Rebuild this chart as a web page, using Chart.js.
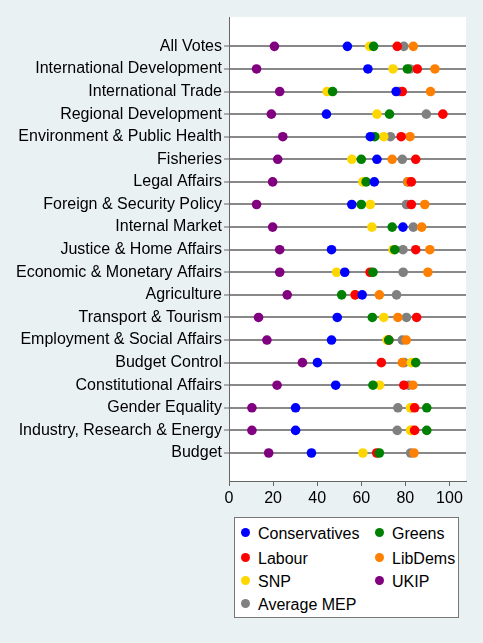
<!DOCTYPE html>
<html>
<head>
<meta charset="utf-8">
<script src="https://cdn.jsdelivr.net/npm/chart.js@4/dist/chart.umd.min.js"></script>
<style>
  html, body { margin: 0; padding: 0; background: #eaf1f3; }
  #wrap { position: relative; width: 483px; height: 643px; }
  canvas { position: absolute; left: 0; top: 0; }
  #legend { position: absolute; left: 234px; top: 517px; width: 225px; height: 101px; box-sizing: border-box;
    border: 1px solid #777; background: #fff; font-family: "Liberation Sans", Arial, sans-serif; font-size: 16px; color: #000; }
  .li { position: absolute; height: 20px; line-height: 20px; white-space: nowrap; }
  .dot { position: absolute; width: 9px; height: 9px; border-radius: 50%; left: 0; top: 5px; }
  .lt { position: absolute; left: 17px; top: 1px; }
</style>
</head>
<body>
<div id="wrap">
  <canvas id="c" width="483" height="643"></canvas>
  <div id="legend"></div>
</div>
<script>
const categories = [
  "All Votes", "International Development", "International Trade", "Regional Development",
  "Environment & Public Health", "Fisheries", "Legal Affairs", "Foreign & Security Policy",
  "Internal Market", "Justice & Home Affairs", "Economic & Monetary Affairs", "Agriculture",
  "Transport & Tourism", "Employment & Social Affairs", "Budget Control", "Constitutional Affairs",
  "Gender Equality", "Industry, Research & Energy", "Budget"
];
const conservatives = [53.7, 63.0, 75.8, 44.2, 64.1, 67.1, 65.9, 55.7, 78.9, 46.5, 52.5, 60.4, 49.1, 46.5, 40.1, 48.4, 30.2, 30.2, 37.4];
const greens        = [65.6, 80.9, 47.0, 72.8, 66.1, 60.0, 62.2, 60.0, 74.0, 75.2, 65.3, 51.1, 65.0, 72.5, 84.7, 65.3, 89.7, 89.7, 68.2];
const labour        = [76.3, 85.4, 78.6, 97.0, 78.1, 84.7, 82.7, 82.7, null, 84.7, 64.0, 57.2, 85.1, 72.5, 69.1, 79.3, 84.2, 84.2, 67.0];
const libdems       = [83.6, 93.4, 91.4, null, 82.1, 74.0, 81.2, 88.8, 87.4, 91.1, 90.2, 68.2, 76.6, 80.4, 78.6, 83.4, 82.8, 82.8, 83.9];
const snp           = [63.8, 74.4, 44.5, 67.1, 70.2, 55.7, 60.7, 64.1, 64.8, 74.4, 48.8, 57.2, 70.2, 71.7, 82.7, 68.3, 82.3, 82.3, 60.7];
const ukip          = [20.6, 12.5, 23.0, 19.2, 24.4, 22.1, 19.8, 12.5, 19.8, 23.0, 23.0, 26.4, 13.4, 17.2, 33.3, 21.8, 10.4, 10.4, 18.0];
const averageMEP    = [79.3, 82.0, 77.2, 89.5, 73.2, 78.6, 81.0, 80.5, 83.6, 78.9, 79.0, 76.0, 80.5, 78.6, 79.5, 81.5, 76.6, 76.3, 82.4];
const xTicks = [0, 20, 40, 60, 80, 100];

const series = [
  { name: "Conservatives", values: conservatives, color: "#0000ff", order: 1 },
  { name: "Greens",        values: greens,        color: "#008000", order: 2 },
  { name: "Labour",        values: labour,        color: "#ff0000", order: 3 },
  { name: "LibDems",       values: libdems,       color: "#ff8000", order: 5 },
  { name: "SNP",           values: snp,           color: "#ffd700", order: 4 },
  { name: "UKIP",          values: ukip,          color: "#800080", order: 0 },
  { name: "Average MEP",   values: averageMEP,    color: "#808080", order: 6 }
];

const datasets = series.map(s => ({
  label: s.name,
  data: s.values.map((v, i) => v === null ? null : { x: v, y: i }).filter(p => p !== null),
  backgroundColor: s.color,
  borderColor: s.color,
  borderWidth: 0,
  pointRadius: 4.8,
  pointHoverRadius: 4.8,
  order: s.order,
  showLine: false
}));

const plotBg = {
  id: 'plotBg',
  beforeDraw(chart) {
    const { ctx, chartArea: a } = chart;
    ctx.save();
    ctx.fillStyle = '#ffffff';
    ctx.fillRect(a.left, a.top, a.right - a.left, a.bottom - a.top);
    ctx.restore();
  }
};

const font = { family: '"Liberation Sans", Arial, sans-serif', size: 16 };

new Chart(document.getElementById('c'), {
  type: 'scatter',
  data: { datasets },
  plugins: [plotBg],
  options: {
    responsive: false,
    animation: false,
    layout: { padding: { top: 17, right: 17, left: 0, bottom: 122 } },
    plugins: { legend: { display: false }, tooltip: { enabled: false } },
    scales: {
      x: {
        type: 'linear', min: 0, max: 107.5,
        afterBuildTicks: s => { s.ticks = xTicks.map(v => ({ value: v })); },
        afterFit: s => { s.height = 40; },
        grid: { drawOnChartArea: false, drawTicks: true, tickLength: 5, tickColor: '#666', tickWidth: 1 },
        border: { display: true, color: '#666', width: 1 },
        ticks: { font, color: '#000', padding: 3, maxRotation: 0 }
      },
      y: {
        type: 'linear', reverse: true, min: -1.3, max: 19.24,
        afterBuildTicks: s => { s.ticks = categories.map((_, i) => ({ value: i })); },
        afterFit: s => { s.width = 229; },
        grid: { drawOnChartArea: true, color: '#888', lineWidth: 2, drawTicks: true, tickLength: 5, tickColor: '#666', tickWidth: 1 },
        border: { display: true, color: '#666', width: 1 },
        ticks: { font, color: '#000', padding: 2, autoSkip: false,
          callback: v => categories[v] }
      }
    }
  }
});

// legend (two columns, row-wise like the reference)
const legend = document.getElementById('legend');
const colX = [6, 140];
const rowY = [15, 40, 63, 86];
series.forEach((s, i) => {
  const col = i % 2, row = Math.floor(i / 2);
  const el = document.createElement('div');
  el.className = 'li';
  el.style.left = colX[col] + 'px';
  el.style.top = (rowY[row] - 10) + 'px';
  el.innerHTML = '<span class="dot" style="background:' + s.color + '"></span><span class="lt"></span>';
  el.querySelector('.lt').textContent = s.name;
  legend.appendChild(el);
});
</script>
</body>
</html>
